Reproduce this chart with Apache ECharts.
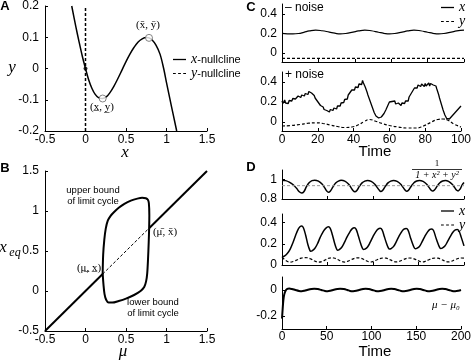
<!DOCTYPE html>
<html><head><meta charset="utf-8">
<script src="https://cdn.jsdelivr.net/npm/echarts@6/dist/echarts.min.js"></script>
<style>html,body{margin:0;padding:0;background:#fff}#c{width:474px;height:361px}</style>
</head><body><div id="c"></div>
<script>
// ---------- Panel A ----------
const aXNullcline = [[-0.17,0.2],[-0.12,0.135],[-0.08,0.086],[-0.04,0.04],[0,0],[0.04,-0.037],[0.08,-0.064],[0.12,-0.083],[0.16,-0.093],[0.212,-0.096],[0.26,-0.09],[0.3,-0.078],[0.35,-0.057],[0.4,-0.032],[0.45,-0.005],[0.5,0.022],[0.55,0.047],[0.6,0.068],[0.65,0.085],[0.7,0.095],[0.75,0.099],[0.784,0.098],[0.82,0.092],[0.87,0.075],[0.92,0.046],[0.965,0.0],[1.0,-0.045],[1.04,-0.095],[1.085,-0.15],[1.126,-0.2]];
const aYNullcline = [[0,-0.2],[0,0.2]];
const aOpenPoints = [[0.212,-0.096],[0.784,0.098]];
const aFixedPoint = [[0,0]];
// ---------- Panel B ----------
const bDiagLow = [[-0.5,-0.5],[0.212,0.212]];
const bDiagMid = [[0.212,0.212],[0.788,0.788]];
const bDiagHigh = [[0.788,0.788],[1.5,1.5]];
const bLoop = [[0.212,0.22],[0.218,0.45],[0.232,0.64],[0.25,0.78],[0.275,0.88],[0.31,0.94],[0.35,0.985],[0.41,1.04],[0.48,1.09],[0.56,1.13],[0.64,1.155],[0.70,1.165],[0.745,1.16],[0.77,1.14],[0.782,1.10],[0.788,0.95],[0.786,0.8],[0.78,0.6],[0.772,0.40],[0.762,0.22],[0.748,0.12],[0.725,0.05],[0.68,0.0],[0.60,-0.05],[0.50,-0.095],[0.41,-0.125],[0.33,-0.145],[0.285,-0.145],[0.255,-0.11],[0.235,-0.04],[0.222,0.08],[0.212,0.22]];
// ---------- Panel C ----------
const cTopX = [[0,0.202],[3,0.197],[6,0.196],[9,0.2],[12,0.212],[15,0.226],[18.5,0.234],[22,0.228],[26,0.214],[29,0.203],[32,0.196],[35,0.2],[39,0.214],[42,0.226],[45.5,0.234],[49,0.228],[53,0.213],[56,0.202],[59,0.196],[62,0.2],[66,0.214],[69,0.226],[72.5,0.234],[76,0.228],[80,0.213],[83,0.202],[86,0.196],[89,0.2],[93,0.214],[96,0.226],[100,0.234]];
const cTopY = [[0,-0.054],[100,-0.054]];
// noisy trace, sampled every 0.5 time units
const cBotX = [
0.21,0.185,0.205,0.22,0.19,0.21,0.2,0.185,0.215,0.205,
0.23,0.21,0.235,0.215,0.245,0.23,0.25,0.235,0.26,0.24,
0.265,0.245,0.27,0.25,0.275,0.26,0.285,0.265,0.3,0.275,
0.305,0.285,0.31,0.29,0.295,0.27,0.265,0.24,0.24,0.215,
0.215,0.19,0.19,0.165,0.17,0.145,0.15,0.125,0.135,0.11,
0.115,0.095,0.115,0.1,0.125,0.105,0.135,0.115,0.14,0.125,
0.15,0.13,0.16,0.145,0.175,0.16,0.19,0.175,0.205,0.195,
0.225,0.21,0.245,0.23,0.27,0.255,0.295,0.28,0.32,0.305,
0.34,0.32,0.35,0.33,0.365,0.345,0.38,0.36,0.395,0.375,
0.415,0.39,0.38,0.35,0.33,0.3,0.27,0.245,0.22,0.195,
0.17,0.145,0.12,0.095,0.075,0.06,0.05,0.045,0.04,0.045,
0.05,0.05,0.06,0.07,0.085,0.1,0.12,0.14,0.16,0.18,
0.2,0.19,0.22,0.205,0.225,0.2,0.21,0.18,0.195,0.17,
0.19,0.17,0.195,0.165,0.19,0.175,0.2,0.185,0.21,0.195,
0.225,0.21,0.25,0.24,0.28,0.27,0.31,0.3,0.34,0.325,
0.36,0.34,0.37,0.35,0.375,0.355,0.38,0.36,0.375,0.355,
0.385,0.36,0.38,0.365,0.39,0.36,0.385,0.365,0.395,0.37,
0.385,0.365,0.36,0.33,0.31,0.275,0.24,0.21,0.18,0.15,
0.12,0.095,0.07,0.05,0.035,0.025,0.025,0.03,0.04,0.05,
0.06,0.07,0.08,0.09,0.1,0.11,0.12,0.13,0.14,0.15,
0.16];
const cBotStep = 0.5;
const cBotY = [[0,-0.04],[5,-0.035],[10,-0.025],[15,-0.012],[19,-0.008],[23,-0.015],[27,-0.03],[31,-0.045],[35,-0.055],[39,-0.05],[43,-0.025],[46,0.005],[49,0.025],[52,0.01],[56,-0.015],[60,-0.035],[65,-0.05],[70,-0.06],[75,-0.06],[79,-0.04],[83,-0.005],[87,0.025],[90,0.03],[93,0.015],[96,-0.02],[100,-0.05]];
// ---------- Panel D ----------
const dTopF = [[0,0.995],[4,0.99],[8,0.975],[12,0.95],[16,0.91],[19,0.875],[21.6,0.862],[24,0.875],[27,0.93],[30,0.97],[33,0.99],[36,0.995],[40,0.985],[44,0.955],[47,0.915],[49,0.885],[51,0.87],[53,0.88],[56,0.925],[59,0.965],[62,0.985],[65,0.993],[69,0.985],[73,0.955],[76,0.915],[78,0.888],[80,0.875],[82,0.885],[85,0.93],[88,0.967],[91,0.985],[94,0.992],[98,0.982],[102,0.952],[105,0.915],[107,0.89],[108.5,0.878],[110.5,0.888],[113.5,0.93],[116.5,0.967],[119.5,0.985],[122.5,0.992],[126.5,0.982],[130.5,0.952],[133.5,0.915],[135.5,0.89],[137,0.88],[139,0.89],[142,0.932],[145,0.968],[148,0.986],[151,0.992],[155,0.982],[159,0.952],[162,0.915],[164,0.89],[165.5,0.882],[167.5,0.892],[170.5,0.933],[173.5,0.968],[176.5,0.986],[179.5,0.992],[183,0.983],[187,0.953],[190,0.915],[192,0.89],[193.5,0.884],[195.5,0.9],[198,0.945],[200,0.97]];
const dTopRef = [[0,0.938],[200,0.938]];
const dMidX = [[0,0.073],[3,0.085],[6,0.11],[9,0.15],[12,0.21],[15,0.28],[18,0.34],[20,0.362],[21.6,0.368],[23.5,0.35],[26,0.28],[28.5,0.19],[30.5,0.14],[31.5,0.13],[33,0.133],[36,0.155],[39,0.2],[42,0.26],[45,0.31],[48,0.345],[51,0.36],[53,0.345],[55.5,0.28],[58,0.2],[60,0.15],[61,0.14],[62.5,0.143],[65.5,0.165],[68.5,0.21],[71.5,0.265],[74.5,0.31],[77,0.34],[79.5,0.35],[81.5,0.335],[84,0.27],[86.5,0.2],[88.5,0.155],[89.5,0.146],[91,0.149],[94,0.17],[97,0.215],[100,0.268],[103,0.312],[105.5,0.338],[108,0.345],[110,0.33],[112.5,0.265],[115,0.2],[117,0.158],[118,0.15],[119.5,0.153],[122.5,0.173],[125.5,0.218],[128.5,0.27],[131.5,0.313],[134,0.337],[136.5,0.343],[138.5,0.328],[141,0.262],[143.5,0.2],[145.5,0.16],[146.5,0.153],[148,0.156],[151,0.175],[154,0.22],[157,0.27],[160,0.312],[162.5,0.335],[164.5,0.34],[166.5,0.325],[169,0.26],[171.5,0.2],[173.5,0.162],[174.5,0.156],[176,0.159],[179,0.178],[182,0.222],[185,0.27],[188,0.31],[190.5,0.33],[192.5,0.335],[194.5,0.32],[197,0.26],[200,0.18]];
const dMidY = [[0,0.073],[3,0.05],[6,0.033],[9,0.027],[13,0.035],[17,0.05],[21,0.064],[25,0.07],[28,0.068],[32,0.055],[36,0.037],[40,0.027],[44,0.033],[48,0.05],[51,0.063],[54,0.068],[57,0.066],[61,0.052],[65,0.035],[68.5,0.028],[72,0.034],[76,0.05],[80,0.063],[83,0.067],[86,0.065],[90,0.052],[94,0.035],[97,0.028],[100.5,0.034],[104.5,0.05],[108.5,0.063],[111.5,0.066],[114.5,0.064],[118.5,0.051],[122.5,0.035],[125.5,0.029],[129,0.035],[133,0.05],[137,0.062],[140,0.066],[143,0.064],[147,0.051],[151,0.035],[154,0.029],[157.5,0.035],[161.5,0.05],[165.5,0.062],[168.5,0.066],[171.5,0.064],[175.5,0.051],[179.5,0.035],[182.5,0.029],[186,0.035],[190,0.05],[194,0.062],[197,0.066],[200,0.064]];
const dBotMu = [[0,-0.22],[0.7,-0.15],[1.5,-0.08],[2.5,-0.035],[4,-0.005],[6,0.008],[8,0.011],[11,0.008],[15,0.0],[19,-0.007],[22,-0.009],[25,-0.006],[29,0.002],[33,0.008],[36,0.01],[40,0.007],[44,0.0],[48,-0.007],[51,-0.009],[54,-0.006],[58,0.002],[62,0.008],[65,0.01],[69,0.007],[73,0.0],[76,-0.007],[79.5,-0.009],[83,-0.006],[87,0.002],[90.5,0.008],[93.5,0.01],[97,0.007],[101,0.0],[104.5,-0.007],[108,-0.009],[111.5,-0.006],[115.5,0.002],[119,0.008],[122,0.01],[125.5,0.007],[129.5,0.0],[133,-0.007],[136.5,-0.009],[140,-0.006],[144,0.002],[147.5,0.008],[150.5,0.01],[154,0.007],[158,0.0],[161.5,-0.007],[165,-0.009],[168.5,-0.006],[172.5,0.002],[176,0.008],[179,0.01],[182.5,0.007],[186.5,0.0],[190,-0.007],[193.5,-0.009],[197,-0.006],[200,0.0]];
// tick values
const cYTicks = [0,0.2,0.4];
const dTopYTicks = [0.8,1];
const dMidYTicks = [0,0.2,0.4];
const dBotYTicks = [-0.2,0];

const SANS = 'Liberation Sans', SERIF = 'Liberation Serif';
const chart = echarts.init(document.getElementById('c'));

function baseAxis(g, min, max, showLabel, margin) {
  return {
    type:'value', gridIndex:g, min:min, max:max,
    axisLine:{show:true, onZero:false, lineStyle:{color:'#000', width:1}},
    axisTick:{show:true, inside:true, length:3, lineStyle:{color:'#000', width:1}},
    axisLabel:{show:showLabel, color:'#000', fontFamily:SANS, fontSize:12, margin:margin},
    splitLine:{show:false}
  };
}
function xAx(g,min,max,interval,showLabel,margin){ const a=baseAxis(g,min,max,showLabel,margin); a.interval=interval; return a; }
function yAx(g,min,max,interval,margin){ const a=baseAxis(g,min,max,true,margin); a.interval=interval; return a; }
function yAxC(g,min,max,vals,margin){ const a=baseAxis(g,min,max,true,margin); a.axisTick.customValues=vals; a.axisLabel.customValues=vals; return a; }

const grids = [
  {left:45, top:3, width:162, height:128},
  {left:45, top:171, width:162, height:160},
  {left:282, top:4, width:182, height:58},
  {left:282, top:72, width:182, height:59},
  {left:282, top:170, width:182, height:29},
  {left:282, top:214, width:182, height:51},
  {left:282, top:277, width:182, height:52}
];
const xAxes = [
  xAx(0,-0.5,1.5,0.5,true,3),
  xAx(1,-0.5,1.5,0.5,true,3),
  xAx(2,0,100,20,false,3),
  xAx(3,0,100,20,true,3),
  xAx(4,0,200,50,false,2),
  xAx(5,0,200,50,false,2),
  xAx(6,0,200,50,true,2)
];
const yAxes = [
  yAx(0,-0.2,0.2,0.1,6),
  yAx(1,-0.5,1.5,0.5,6),
  yAxC(2,-0.09,0.5,cYTicks,5),
  yAxC(3,-0.09,0.5,cYTicks,5),
  yAxC(4,0.8,1.1,dTopYTicks,5),
  yAxC(5,0,0.48,dMidYTicks,5),
  yAxC(6,-0.3,0.1,dBotYTicks,5)
];

function line(name, idx, data, w, dash, smooth, color) {
  const c = color || '#000';
  return {type:'line', name:name, xAxisIndex:idx, yAxisIndex:idx, data:data, symbol:'none', smooth:smooth,
    silent:true, z:3, color:c, itemStyle:{color:c}, lineStyle:{color:c, width:w, type:dash||'solid'}};
}
const cBotXData = cBotX.map((v,i)=>[i*cBotStep, v]);

const series = [
  line('xnull',0,aXNullcline,1.5,null,0.35),
  line('ynull',0,aYNullcline,1.5,[3,2],false),
  {type:'scatter', xAxisIndex:0, yAxisIndex:0, data:aOpenPoints, symbolSize:7, z:5,
    itemStyle:{color:'#fff', borderColor:'#666', borderWidth:1}},
  {type:'scatter', xAxisIndex:0, yAxisIndex:0, data:aFixedPoint, symbolSize:4, z:5, itemStyle:{color:'#000'}},
  line('b1',1,bDiagLow,2,null,false),
  line('b2',1,bDiagMid,1,[3,2],false),
  line('b3',1,bDiagHigh,2,null,false),
  line('bloop',1,bLoop,2,null,0.3),
  line('Cx',2,cTopX,1.2,null,0.5),
  line('Cy',2,cTopY,1.2,[3,2],false),
  line('C2x',3,cBotXData,1.3,null,false),
  line('C2y',3,cBotY,1.2,[3,2],0.5),
  line('D1f',4,dTopF,1.5,null,0.4),
  line('D1r',4,dTopRef,1,[3,2],false,'#999'),
  line('Dx',5,dMidX,1.5,null,0.4),
  line('Dy',5,dMidY,1.2,[3,2],0.4),
  line('D3',6,dBotMu,2,null,0.4)
];

const SOLID_ICON = 'path://M0,0h14v1.4h-14z';
const DASH_ICON = 'path://M0,0h3v1.2h-3z M5.5,0h3v1.2h-3z M11,0h3v1.2h-3z';
const legendNames = {xnull:'{m|x}-nullcline', ynull:'{m|y}-nullcline', Cx:'{m|x}', Cy:'{m|y}', Dx:'{m|x}', Dy:'{m|y}'};
function legend(left, top, names, lh) {
  return {left:left, top:top, orient:'vertical', itemWidth:13, itemHeight:1.4, itemGap:0, padding:0,
    selectedMode:false,
    data:[{name:names[0], icon:SOLID_ICON, itemStyle:{color:'#000'}}, {name:names[1], icon:DASH_ICON, itemStyle:{color:'#000'}}],
    formatter:n=>legendNames[n],
    textStyle:{fontFamily:SANS, fontSize:11, color:'#000', lineHeight:lh,
      rich:{m:{fontFamily:SERIF, fontStyle:'italic', fontSize:14, lineHeight:lh}}}};
}

function txt(text, x, y, font, opts) {
  return {type:'text', silent:true, z:50, style:Object.assign({text:text, x:x, y:y, font:font, fill:'#000',
    textAlign:'center', textVerticalAlign:'middle'}, opts||{})};
}
const F_LET = 'bold 13px ' + SANS;
const F_MATH = 'italic 17px ' + SERIF;
const F_PT = '11px ' + SERIF;
const graphics = [
  txt('A',5,6,F_LET), txt('B',5,168,F_LET), txt('C',251,7,F_LET), txt('D',251,167,F_LET),
  txt('y',12,68,F_MATH), txt('x',125,153,F_MATH),
  txt('x',3,248,F_MATH), txt('eq',15,253,'italic 12px '+SERIF),
  txt('μ',123,352,F_MATH),
  txt('(x\u0332, y\u0332)',102,107,F_PT), txt('(x\u0304, \u0233)',148,25,F_PT),
  txt('(μ\u0332, x\u0332)',89,268,F_PT), txt('(μ\u0304, x\u0304)',165,232,F_PT),
  txt('upper bound',93,190,'9.5px '+SANS), txt('of limit cycle',93,201,'9.5px '+SANS),
  txt('lower bound',153,302,'9.5px '+SANS), txt('of limit cycle',153,313,'9.5px '+SANS),
  txt('\u2013 noise',285,8,'12px '+SANS,{textAlign:'left'}),
  txt('+ noise',285,75,'12px '+SANS,{textAlign:'left'}),
  txt('Time',375,152,'15px '+SANS), txt('Time',375,352,'15px '+SANS),
  txt('1',437,164,'9px '+SERIF),
  {type:'line', silent:true, z:50, shape:{x1:412,y1:169.5,x2:462,y2:169.5}, style:{stroke:'#000', lineWidth:0.8}},
  txt('1 + x² + y²',437,175,'italic 10px '+SERIF),
  txt('μ − μ₀',446,305,'italic 11px '+SERIF)
];

chart.setOption({
  animation:false,
  backgroundColor:'#fff',
  grid:grids, xAxis:xAxes, yAxis:yAxes, series:series,
  legend:[legend(173,52.5,['xnull','ynull'],13), legend(441,0.5,['Cx','Cy'],13), legend(441,204,['Dx','Dy'],12)],
  graphic:graphics
});
</script></body></html>
